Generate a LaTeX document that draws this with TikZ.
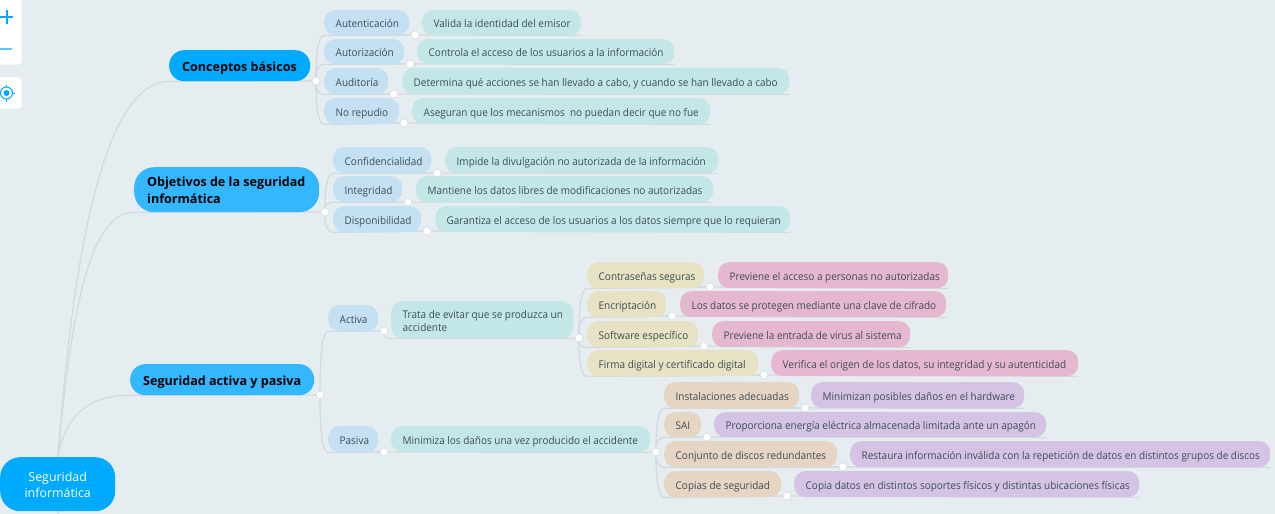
\documentclass[tikz,border=0pt]{standalone}
\usepackage{fontspec}
\setmainfont{Open Sans}[FakeStretch=0.94]
\newfontfamily\plainf{Open Sans}
\usetikzlibrary{calc,backgrounds}
\definecolor{bgc}{HTML}{E6EDF1}
\definecolor{linec}{HTML}{D3D9DC}
\definecolor{txt}{HTML}{3F4D55}
\definecolor{rootc}{HTML}{00AAFF}
\definecolor{lightc}{HTML}{33B7FF}
\definecolor{blc}{HTML}{C3E1F3}
\definecolor{tlc}{HTML}{C3E7E7}
\definecolor{yec}{HTML}{E6E2C3}
\definecolor{pkc}{HTML}{E6B8CF}
\definecolor{tnc}{HTML}{E6D5C3}
\definecolor{lic}{HTML}{D5C3E6}
\def\pillal{l}
\tikzset{
 pillalign/.store in=\pillal,
 pillbase/.style={rectangle,inner ysep=0pt,inner xsep=11.5pt,anchor=north west,rounded corners=11pt,text=txt,pillalign=l,font=\fontsize{10.6}{13}\selectfont},
 lvlb/.style={fill=blc},
 lvlt/.style={fill=tlc},
 lvly/.style={fill=yec},
 lvlp/.style={fill=pkc},
 lvln/.style={fill=tnc},
 lvli/.style={fill=lic},
 headnode/.style={fill=lightc,text=black,inner xsep=13pt,rounded corners=15pt,font=\plainf\fontsize{12.55}{17}\selectfont\bfseries},
 rootnode/.style={fill=rootc,text=white,inner xsep=6pt,rounded corners=20pt,pillalign=c,font=\plainf\fontsize{12.4}{16}\selectfont},
 dotn/.style={circle,fill=white,draw=linec,line width=.5pt,minimum size=8pt,inner sep=0pt},
 conn/.style={draw=linec,line width=1.2pt},
 ctrl/.style={fill=white,draw=black!8,line width=.6pt,rounded corners=4pt},
 ctrlmark/.style={draw=rootc,line width=2pt}
}
\newcommand\pill[7]{%
 \pgfmathsetlengthmacro\pw{#4-#2}%
 \pgfmathsetlengthmacro\ph{#5-#3}%
 \node[pillbase,minimum height=\ph,minimum width=\pw,#6] (#1) at (#2,#3)
  {\raisebox{-5.2pt}[0pt][0pt]{\makebox[\dimexpr\pw-2\dimexpr\pgfkeysvalueof{/pgf/inner xsep}\relax\relax][\pillal]{\begin{tabular}{@{}\pillal@{}}#7\end{tabular}}}};}
\newcommand\branch[3]{\draw[conn] (#1) .. controls ($(#1)!0.7!(#1 |- #2.south west)$) and ($(#2.south west)+(-5,0)$) .. (#2.south west) -- (#3);}
\newcommand\under[3]{\draw[conn] (#1.south west) -- (#2) -- (#3.south east);}
\begin{document}
\begin{tikzpicture}[x=1pt,y=-1pt]
\useasboundingbox (0,0) rectangle (1275,514);
% nodes
\pill{root}{0}{457}{115}{511}{rootnode}{Seguridad\\informática}
\pill{cb}{169}{50}{310}{81}{headnode,fill=rootc}{Conceptos básicos}
\pill{ob}{134}{167}{319}{212}{headnode,rounded corners=20pt}{Objetivos de la seguridad\\informática}
\pill{sa}{130}{364}{314}{395}{headnode}{Seguridad activa y pasiva}

\pill{a1}{324}{10}{409}{35}{lvlb}{Autenticación}
\pill{b1}{422}{10}{581}{35}{lvlt}{Valida la identidad del emisor}
\pill{a2}{324}{39}{404}{64}{lvlb}{Autorización}
\pill{b2}{417}{39}{674}{64}{lvlt}{Controla el acceso de los usuarios a la información}
\pill{a3}{324}{68}{388}{94}{lvlb}{Auditoría}
\pill{b3}{402}{68}{789}{94}{lvlt}{Determina qué acciones se han llevado a cabo, y cuando se han llevado a cabo}
\pill{a4}{324}{98}{399}{124}{lvlb}{No repudio}
\pill{b4}{412}{98}{710}{124}{lvlt}{Aseguran que los mecanismos\ \ no puedan decir que no fue}

\pill{c1}{333}{147}{431}{173}{lvlb}{Confidencialidad}
\pill{d1}{445}{147}{718}{173}{lvlt}{Impide la divulgación no autorizada de la información}
\pill{c2}{333}{176}{402}{202}{lvlb}{Integridad}
\pill{d2}{416}{176}{713}{202}{lvlt}{Mantiene los datos libres de modificaciones no autorizadas}
\pill{c3}{333}{206}{421}{232}{lvlb}{Disponibilidad}
\pill{d3}{435}{206}{790}{232}{lvlt}{Garantiza el acceso de los usuarios a los datos siempre que lo requieran}

\pill{ac}{328}{305}{378}{331}{lvlb}{Activa}
\pill{tr}{391}{301}{573}{338}{lvlt}{Trata de evitar que se produzca un\\accidente}
\pill{pa}{328}{426}{378}{452}{lvlb}{Pasiva}
\pill{mi}{391}{426}{650}{452}{lvlt}{Minimiza los daños una vez producido el accidente}

\pill{e1}{587}{262}{704}{288}{lvly}{Contraseñas seguras}
\pill{f1}{718}{262}{948}{288}{lvlp}{Previene el acceso a personas no autorizadas}
\pill{e2}{587}{291}{666}{317}{lvly}{Encriptación}
\pill{f2}{680}{291}{946}{317}{lvlp}{Los datos se protegen mediante una clave de cifrado}
\pill{e3}{587}{321}{698}{347}{lvly}{Software específico}
\pill{f3}{712}{321}{910}{347}{lvlp}{Previene la entrada de virus al sistema}
\pill{e4}{587}{350}{758}{376}{lvly}{Firma digital y certificado digital}
\pill{f4}{771}{350}{1078}{376}{lvlp}{Verifica el origen de los datos, su integridad y su autenticidad}

\pill{g1}{664}{382}{799}{408}{lvln}{Instalaciones adecuadas}
\pill{h1}{811}{382}{1024}{408}{lvli}{Minimizan posibles daños en el hardware}
\pill{g2}{664}{412}{701}{437}{lvln}{SAI}
\pill{h2}{714}{412}{1046}{437}{lvli}{Proporciona energía eléctrica almacenada limitada ante un apagón}
\pill{g3}{664}{441}{837}{467}{lvln}{Conjunto de discos redundantes}
\pill{h3}{850}{441}{1270}{467}{lvli}{Restaura información inválida con la repetición de datos en distintos grupos de discos}
\pill{g4}{664}{471}{781}{497}{lvln}{Copias de seguridad}
\pill{h4}{794}{471}{1139}{497}{lvli}{Copia datos en distintos soportes físicos y distintas ubicaciones físicas}

% dots
\foreach \n/\x/\y in {dcb/316/81,dob/325/212,dsa/320/395,
 da1/415/35,da2/410/64,da3/394/94,da4/404/123,
 dc1/437/173,dc2/408/202,dc3/427/231,
 dac/384/331,dtr/579/338,dpa/384/452,dmi/656/452,
 de1/710/287,de2/672/316,de3/704/346,de4/764/375,
 dg1/805/408,dg2/707/437,dg3/843/467,dg4/787/496}
 {\node[dotn] (\n) at (\x,\y) {};}

% connectors
\begin{scope}[on background layer]
\fill[bgc] (0,0) rectangle (1275,514);
\coordinate (rt) at (58,457);
\coordinate (rb) at (58,514);
\draw[conn] (rt) -- (rb);
\draw[conn] (rt) .. controls (73,250) and (105,81) .. (cb.south west) -- (dcb);
\draw[conn] (rt) .. controls (72,300) and (92,212) .. (ob.south west) -- (dob);
\draw[conn] (rt) .. controls (64,420) and (85,395) .. (sa.south west) -- (dsa);
\foreach \i in {1,2,3,4} {
 \branch{dcb}{a\i}{da\i}
 \under{a\i}{da\i}{b\i}
 \branch{dtr}{e\i}{de\i}
 \under{e\i}{de\i}{f\i}
 \branch{dmi}{g\i}{dg\i}
 \under{g\i}{dg\i}{h\i}
}
\foreach \i in {1,2,3} {
 \branch{dob}{c\i}{dc\i}
 \under{c\i}{dc\i}{d\i}
}
\branch{dsa}{ac}{dac}
\branch{dsa}{pa}{dpa}
\branch{dac}{tr}{tr.south east}
\draw[conn] (tr.south east) -- (dtr);
\under{pa}{dpa}{mi}
\draw[conn] (mi.south east) -- (dmi);
\end{scope}

% map controls
\draw[ctrl] (-8,-8) rectangle (22,65);
\draw[ctrl] (-8,77) rectangle (22,109);
\draw[ctrlmark] (0,17) -- (13,17) (6.5,10) -- (6.5,24);
\draw[ctrlmark,draw=rootc!65] (0,48.5) -- (12,48.5);
\draw[ctrlmark,line width=1pt] (6.5,93) circle (6);
\fill[rootc] (6.5,93) circle (3);
\draw[ctrlmark,line width=.8pt] (6.5,84.5) -- (6.5,87) (6.5,99) -- (6.5,101.5) (-2,93) -- (0.5,93) (12.5,93) -- (15,93);
\end{tikzpicture}
\end{document}
